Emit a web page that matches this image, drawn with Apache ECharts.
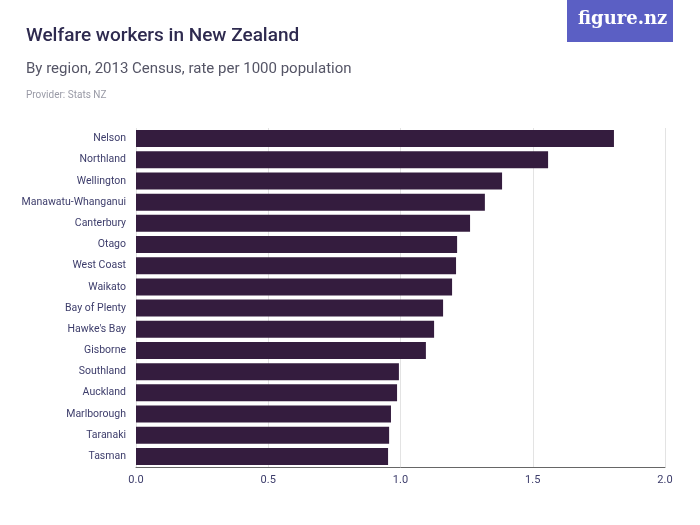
<!DOCTYPE html>
<html><head><meta charset="utf-8">
<script src="https://cdn.jsdelivr.net/npm/echarts@6/dist/echarts.min.js"></script>
<style>html,body{margin:0;padding:0;background:#fff}#c{width:700px;height:525px}</style>
</head><body><div id="c"></div>
<script>
const regions = ["Nelson","Northland","Wellington","Manawatu-Whanganui","Canterbury","Otago","West Coast","Waikato","Bay of Plenty","Hawke's Bay","Gisborne","Southland","Auckland","Marlborough","Taranaki","Tasman"];
const rates = [1.807,1.558,1.384,1.319,1.263,1.214,1.21,1.195,1.161,1.127,1.096,0.994,0.987,0.964,0.957,0.953];
const xTicks = [0,0.5,1,1.5,2];
const chart = echarts.init(document.getElementById('c'));
chart.setOption({
  animation:false,
  graphic:[
    {type:'rect',left:567,top:0,shape:{width:106,height:42},style:{fill:'#5b5fc4'}},
    {type:'text',left:578,top:10,style:{text:'figure.nz',fill:'#fff',font:'bold 18px "DejaVu Serif", serif'}},
    {type:'text',left:26,top:27,style:{text:'Welfare workers in New Zealand',fill:'#2e2a4f',font:'500 19px Roboto, sans-serif'}},
    {type:'text',left:26,top:62,style:{text:'By region, 2013 Census, rate per 1000 population',fill:'#555566',font:'15px Roboto, sans-serif'}},
    {type:'text',left:26,top:90,style:{text:'Provider: Stats NZ',fill:'#999aa6',font:'10px Roboto, sans-serif'}}
  ],
  grid:{left:136,right:35,top:128,bottom:58},
  xAxis:{type:'value',min:0,max:2,interval:0.5,
    axisLabel:{color:'#3d3d6b',fontSize:11,fontFamily:'Roboto',formatter:v=>v.toFixed(1)},
    splitLine:{lineStyle:{color:'#e3e3e3'}},axisLine:{show:true,lineStyle:{color:'#666'}},axisTick:{show:false}},
  yAxis:{type:'category',data:regions,inverse:true,
    axisLabel:{color:'#3d3d6b',fontSize:10.5,fontFamily:'Roboto',margin:10},
    axisLine:{show:false},axisTick:{show:false}},
  series:[{type:'bar',data:rates,barCategoryGap:'20%',itemStyle:{color:'#341c3e'}}]
});
</script></body></html>
